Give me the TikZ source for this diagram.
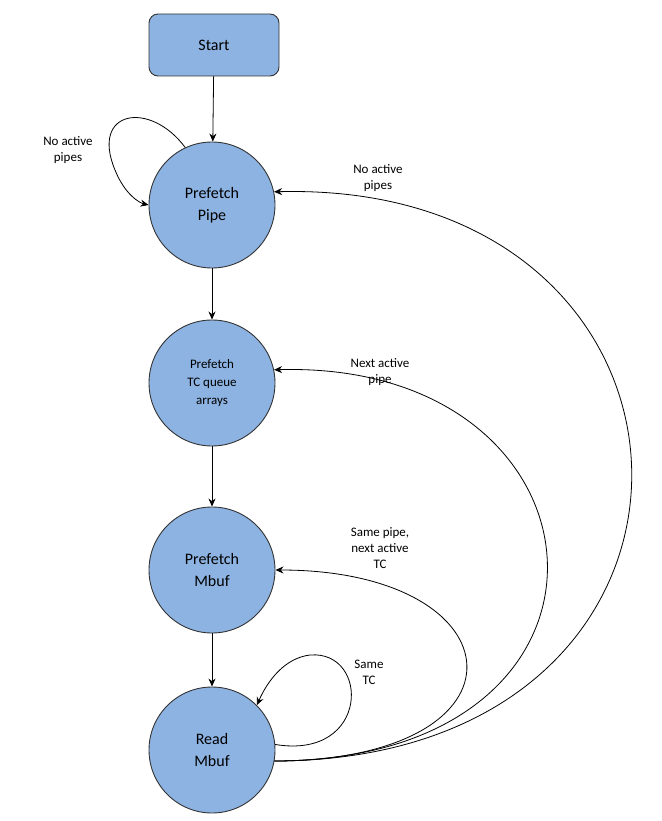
\documentclass[tikz,border=0pt]{standalone}
\usepackage{fontspec}
\setmainfont{Carlito}
\usetikzlibrary{arrows.meta}
\definecolor{nb}{HTML}{8DB3E2}
\begin{document}
\begin{tikzpicture}[x=1pt,y=-1pt,
  st/.style={circle,draw=black!80,line width=0.9pt,fill=nb,minimum size=126pt,inner sep=0pt,align=center,font=\fontsize{16}{20}\selectfont},
  arr/.style={-{Stealth[length=8pt,width=7pt]},black,line width=0.8pt},
  lbl/.style={align=center,font=\fontsize{13}{16}\selectfont}]
\useasboundingbox (0,0) rectangle (661,821);
\node[draw=black!80,line width=0.9pt,fill=nb,rounded corners=9pt,minimum width=130pt,minimum height=62pt,font=\fontsize{16}{20}\selectfont] (start) at (214,45) {Start};
\node[st] (pipe) at (212,205) {Prefetch\\[2pt]Pipe};
\node[st,font=\fontsize{13}{18}\selectfont] (tc) at (212,383) {Prefetch\\TC queue\\arrays};
\node[st] (mbuf) at (212,570) {Prefetch\\[2pt]Mbuf};
\node[st] (read) at (212,750) {Read\\[2pt]Mbuf};
\draw[arr] (start) -- (pipe);
\draw[arr] (pipe) -- (tc);
\draw[arr] (tc) -- (mbuf);
\draw[arr] (mbuf) -- (read);
\draw[arr] (pipe.115) .. controls (150,100) and (90,110) .. (115,170) .. controls (125,195) and (140,203) .. (pipe.west);
\draw[arr] (read.5) .. controls (370,760) and (370,650) .. (310,655) .. controls (285,658) and (268,680) .. (read.45);
\draw[arr] (read.-10) .. controls (760,760) and (740,180) .. (pipe.12);
\draw[arr] (read.-10) .. controls (655,760) and (620,360) .. (tc.12);
\draw[arr] (read.-10) .. controls (540,760) and (520,570) .. (mbuf.east);
\node[lbl] (l1) at (68,150) {No active\\pipes};
\node[lbl] (l2) at (378,178) {No active\\pipes};
\node[lbl] (l3) at (380,372) {Next active\\pipe};
\node[lbl] (l4) at (380,548) {Same pipe,\\next active\\TC};
\node[lbl] (l5) at (369,672) {Same\\TC};
\end{tikzpicture}
\end{document}
